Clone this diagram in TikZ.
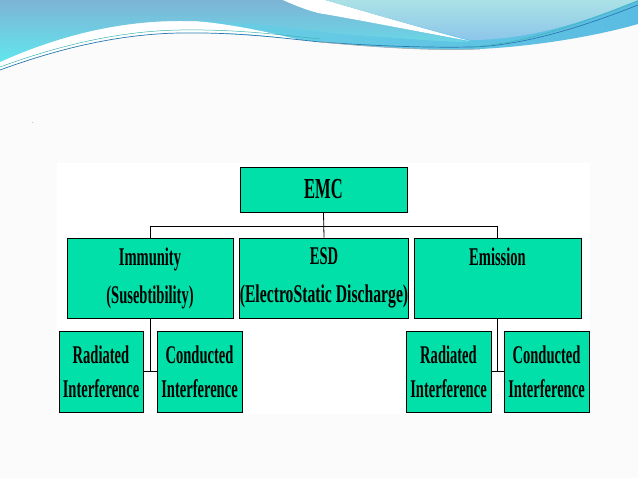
\documentclass[tikz,border=0pt]{standalone}
\usepackage{fontspec}
\usepackage{tikz}

\newfontfamily\boxfont[FakeStretch=0.57]{Liberation Serif}

\definecolor{boxgreen}{HTML}{00E0A8}
\definecolor{pagegray}{HTML}{FBFBFB}
\definecolor{waveblue}{HTML}{7DB4D5}
\definecolor{wavecyan}{HTML}{62E6EE}
\definecolor{wavelight}{HTML}{ABE1E6}
\definecolor{wavesky}{HTML}{8CC6EA}
\definecolor{bandleft}{HTML}{6ED8E6}
\definecolor{bandright}{HTML}{5ABCE2}
\definecolor{linedark}{HTML}{2B79B0}
\definecolor{lineteal}{HTML}{3AB5B0}

\begin{document}
\begin{tikzpicture}[
            x=1pt,   % 1px = 1pt
            y=-1pt,  % y軸は下向き
            box/.style={draw=black, line width=0.8pt, fill=boxgreen,
                inner sep=0pt, align=center, text=black},
            topbox/.style={box, minimum width=167pt, minimum height=45pt,
                font=\boxfont\bfseries\fontsize{29}{35}\selectfont},
            midbox/.style={box, minimum width=166pt, minimum height=80pt,
                font=\boxfont\bfseries\fontsize{25.5}{38}\selectfont},
            leafbox/.style={box, minimum width=85pt, minimum height=81pt,
                font=\boxfont\bfseries\fontsize{25.5}{34}\selectfont}
        ]
            \useasboundingbox (0,0) rectangle (638,478);
            
            % 背景
            \fill[pagegray] (0,0) rectangle (638,478);
            \fill[white] (57,163) rectangle (590,414);
            
            % 上部の波(帯)
            \shade[left color=bandleft, right color=bandright]
                (0,0) -- (0,70) .. controls (60,48) and (120,34) .. (180,33)
                .. controls (240,32) and (290,39) .. (320,42)
                .. controls (380,48) and (440,51) .. (480,49)
                .. controls (540,46) and (600,35) .. (638,24) -- (638,0) -- cycle;
            \fill[white]
                (0,70) .. controls (60,48) and (120,34) .. (180,33)
                .. controls (240,32) and (270,36) .. (300,40)
                .. controls (260,30) and (220,22) .. (180,20)
                .. controls (120,18) and (50,40) .. (0,60) -- cycle;
            
            % 上部の波(左の青)
            \shade[top color=waveblue, bottom color=wavecyan]
                (0,0) -- (0,62) .. controls (60,35) and (120,21) .. (180,21)
                .. controls (250,21) and (300,30) .. (340,34)
                .. controls (400,38) and (440,42) .. (470,42)
                .. controls (420,32) and (360,20) .. (318,13)
                .. controls (300,8) and (290,3) .. (283,0) -- cycle;
            
            % 白い筋と右の水色
            \fill[white]
                (283,0) .. controls (290,3) and (300,8) .. (318,13)
                .. controls (360,20) and (420,32) .. (470,41)
                .. controls (410,25) and (360,10) .. (325,0) -- cycle;
            \shade[top color=wavelight, bottom color=wavesky]
                (325,0) .. controls (360,10) and (410,25) .. (470,40)
                .. controls (540,40) and (600,15) .. (638,0) -- cycle;
            
            % 細い線
            \draw[linedark, line width=0.7pt]
                (0,70) .. controls (60,48) and (120,34) .. (180,33)
                .. controls (240,32) and (290,39) .. (320,42)
                .. controls (360,45) and (420,48) .. (470,47)
                .. controls (530,46) and (600,20) .. (638,5);
            \draw[lineteal, line width=0.5pt]
                (0,67) .. controls (60,45) and (120,31) .. (180,30)
                .. controls (240,29) and (290,36) .. (320,39);
            \draw[lineteal, line width=0.5pt]
                (470,47) .. controls (530,44) and (600,16) .. (638,1);
            \draw[gray!70, line width=0.5pt]
                (320,42) .. controls (380,48) and (440,51) .. (480,49);
            
            % 小さな点
            \node[font=\small, text=gray, inner sep=0pt] (dot) at (33,123) {.};
            
            % ボックス
            \node[topbox] (emc) at (323.5,189.5) {EMC};
            \node[midbox] (immunity) at (150,278) {Immunity\\(Susebtibility)};
            \node[midbox] (esd) at (324,278)
                {ESD\\\scalebox{1.08}[1]{(ElectroStatic Discharge)}};
            \node[midbox, minimum width=167pt] (emission) at (497.5,278)
                {Emission\\\vphantom{(Susebtibility)}};
            \node[leafbox, minimum width=84pt] (radI) at (101,371.5) {Radiated\\Interference};
            \node[leafbox] (condI) at (199.5,371.5) {Conducted\\Interference};
            \node[leafbox] (radE) at (448.5,371.5) {Radiated\\Interference};
            \node[leafbox] (condE) at (546.5,371.5) {Conducted\\Interference};
            
            % 接続線
            \coordinate (bus) at (0,226);
            \draw[line width=0.8pt] (emc.south) -- (esd.north);
            \draw[line width=0.8pt] (immunity.north) -- (immunity.north |- bus)
                -- (emission.north |- bus) -- (emission.north);
            \draw[line width=0.8pt] (immunity.south) -- (immunity.south |- radI.east);
            \draw[line width=0.8pt] (radI.east) -- (condI.west);
            \draw[line width=0.8pt] (emission.south) -- (emission.south |- radE.east);
            \draw[line width=0.8pt] (radE.east) -- (condE.west);
        \end{tikzpicture}
\end{document}
